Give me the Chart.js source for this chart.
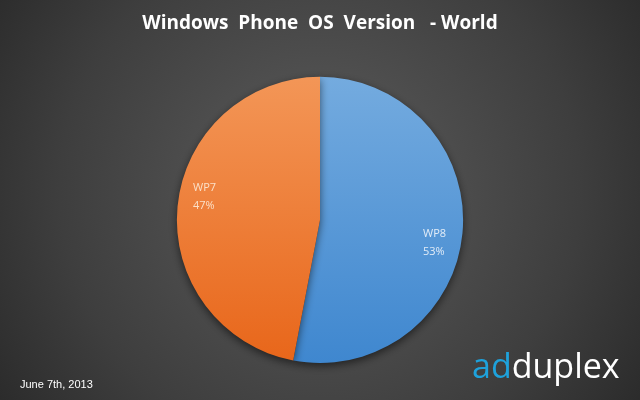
<!DOCTYPE html>
<html>
<head>
<meta charset="utf-8">
<script src="https://cdn.jsdelivr.net/npm/chart.js@4.4.0/dist/chart.umd.min.js"></script>
<style>
  html, body { margin: 0; padding: 0; background: #333; }
  #wrap { width: 640px; height: 400px; }
</style>
</head>
<body>
<div id="wrap"><canvas id="osChart" width="640" height="400"></canvas></div>
<script>
const chartTitle = 'Windows  Phone  OS  Version   - World';
const labels = ['WP8', 'WP7'];
const shares = [53, 47];
const topColors = ['#74abdf', '#f39657'];
const bottomColors = ['#3f87cf', '#e8661a'];
const labelColors = ['#e2ecf7', '#fbe0c8'];
const dateText = 'June 7th, 2013';

// background gradient + date + logo
const decorPlugin = {
    id: 'decor',
    beforeDraw(chart) {
        const ctx = chart.ctx;
        const g = ctx.createRadialGradient(320, 190, 20, 320, 190, 420);
        g.addColorStop(0, '#5a5a5a');
        g.addColorStop(0.6, '#3e3e3e');
        g.addColorStop(1, '#262626');
        ctx.save();
        ctx.fillStyle = g;
        ctx.fillRect(0, 0, chart.width, chart.height);
        ctx.restore();
    },
    beforeDatasetsDraw(chart) {
        const ctx = chart.ctx;
        ctx.save();
        ctx.shadowColor = 'rgba(0,0,0,0.55)';
        ctx.shadowBlur = 8;
        ctx.shadowOffsetY = 3;
    },
    afterDatasetsDraw(chart) {
        const ctx = chart.ctx;
        ctx.restore();
        const meta = chart.getDatasetMeta(0);
        ctx.save();
        ctx.font = '11px "Open Sans"';
        ctx.textAlign = 'left';
        ctx.textBaseline = 'middle';
        meta.data.forEach((arc, i) => {
            const p = arc.getProps(['x', 'y', 'startAngle', 'endAngle', 'outerRadius'], true);
            const mid = (p.startAngle + p.endAngle) / 2 + 6 * Math.PI / 180;
            const r = p.outerRadius * 0.82;
            const cx = p.x + Math.cos(mid) * r;
            const cy = p.y + Math.sin(mid) * r;
            ctx.fillStyle = labelColors[i];
            ctx.fillText(labels[i], cx - 12, cy - 9);
            ctx.fillText(shares[i] + '%', cx - 12, cy + 9);
        });
        ctx.restore();
    },
    afterDraw(chart) {
        const ctx = chart.ctx;
        ctx.save();
        ctx.fillStyle = '#ffffff';
        ctx.font = '11px "Liberation Sans"';
        ctx.textBaseline = 'alphabetic';
        ctx.fillText(dateText, 20, 388);

        ctx.font = '34px "Open Sans"';
        const x0 = 472;
        ctx.fillStyle = '#1ea2dc';
        ctx.fillText('ad', x0, 378);
        const w = ctx.measureText('ad').width;
        ctx.fillStyle = '#ffffff';
        ctx.fillText('duplex', x0 + w, 378);
        ctx.restore();
    }
};

function sliceFill(context) {
    const chart = context.chart;
    const area = chart.chartArea;
    if (!area) return topColors[context.dataIndex];
    const g = chart.ctx.createLinearGradient(0, area.top, 0, area.bottom);
    g.addColorStop(0, topColors[context.dataIndex]);
    g.addColorStop(1, bottomColors[context.dataIndex]);
    return g;
}

new Chart(document.getElementById('osChart').getContext('2d'), {
    type: 'pie',
    data: {
        labels: labels,
        datasets: [{
            data: shares,
            backgroundColor: sliceFill,
            borderWidth: 0
        }]
    },
    options: {
        responsive: false,
        animation: false,
        events: [],
        layout: {
            padding: { top: 0, bottom: 37, left: 0, right: 0 }
        },
        plugins: {
            legend: { display: false },
            tooltip: { enabled: false },
            title: {
                display: true,
                text: chartTitle,
                color: '#ffffff',
                font: { family: '"Open Sans"', size: 19, weight: 'bold', lineHeight: 1.2 },
                padding: { top: 12, bottom: 42 }
            }
        }
    },
    plugins: [decorPlugin]
});
</script>
</body>
</html>
